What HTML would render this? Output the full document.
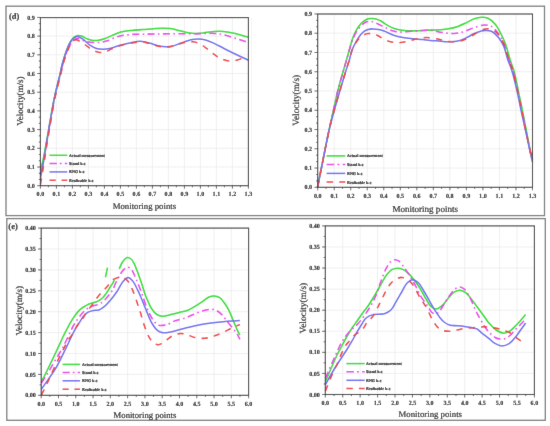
<!DOCTYPE html>
<html><head><meta charset="utf-8"><title>Velocity comparison</title>
<style>
html,body{margin:0;padding:0;background:#fff;}
body{width:550px;height:426px;overflow:hidden;}
svg{display:block;text-rendering:geometricPrecision;}
.tk{font-family:"Liberation Serif",serif;font-weight:bold;fill:#111;stroke:#111;stroke-width:0.1px;}
.lg{font-family:"Liberation Serif",serif;font-weight:bold;fill:#1a1a1a;stroke:#1a1a1a;stroke-width:0.18px;}
.pl{font-family:"Liberation Serif",serif;font-weight:bold;fill:#1a1a1a;stroke:#1a1a1a;stroke-width:0.15px;}
.at{font-family:"Liberation Serif",serif;fill:#1a1a1a;stroke:#1a1a1a;stroke-width:0.18px;}
</style></head><body>
<svg width="550" height="426" viewBox="0 0 550 426">
<defs><filter id="soft" x="0" y="0" width="550" height="426" filterUnits="userSpaceOnUse"><feConvolveMatrix order="3" kernelMatrix="0.0052 0.0619 0.0052 0.0619 0.7314 0.0619 0.0052 0.0619 0.0052" divisor="1" edgeMode="duplicate" preserveAlpha="true"/></filter></defs>
<g filter="url(#soft)">
<rect x="0" y="0" width="550" height="426" fill="#fff"/>
<line x1="251.5" y1="18" x2="251.5" y2="186" stroke="#f3f3f3" stroke-width="0.8"/>
<rect x="6.0" y="6.2" width="538.5" height="209.4" fill="none" stroke="#7a7a7a" stroke-width="1.3"/>
<rect x="6.8" y="218.6" width="538.5" height="201.7" fill="none" stroke="#7a7a7a" stroke-width="1.3"/>
<line x1="56.40" y1="17.60" x2="56.40" y2="185.70" stroke="#e9e9e9" stroke-width="0.7"/>
<line x1="72.40" y1="17.60" x2="72.40" y2="185.70" stroke="#e9e9e9" stroke-width="0.7"/>
<line x1="88.40" y1="17.60" x2="88.40" y2="185.70" stroke="#e9e9e9" stroke-width="0.7"/>
<line x1="104.40" y1="17.60" x2="104.40" y2="185.70" stroke="#e9e9e9" stroke-width="0.7"/>
<line x1="120.40" y1="17.60" x2="120.40" y2="185.70" stroke="#e9e9e9" stroke-width="0.7"/>
<line x1="136.40" y1="17.60" x2="136.40" y2="185.70" stroke="#e9e9e9" stroke-width="0.7"/>
<line x1="152.40" y1="17.60" x2="152.40" y2="185.70" stroke="#e9e9e9" stroke-width="0.7"/>
<line x1="168.40" y1="17.60" x2="168.40" y2="185.70" stroke="#e9e9e9" stroke-width="0.7"/>
<line x1="184.40" y1="17.60" x2="184.40" y2="185.70" stroke="#e9e9e9" stroke-width="0.7"/>
<line x1="200.40" y1="17.60" x2="200.40" y2="185.70" stroke="#e9e9e9" stroke-width="0.7"/>
<line x1="216.40" y1="17.60" x2="216.40" y2="185.70" stroke="#e9e9e9" stroke-width="0.7"/>
<line x1="232.40" y1="17.60" x2="232.40" y2="185.70" stroke="#e9e9e9" stroke-width="0.7"/>
<line x1="40.40" y1="167.00" x2="248.40" y2="167.00" stroke="#e9e9e9" stroke-width="0.7"/>
<line x1="40.40" y1="148.30" x2="248.40" y2="148.30" stroke="#e9e9e9" stroke-width="0.7"/>
<line x1="40.40" y1="129.60" x2="248.40" y2="129.60" stroke="#e9e9e9" stroke-width="0.7"/>
<line x1="40.40" y1="110.90" x2="248.40" y2="110.90" stroke="#e9e9e9" stroke-width="0.7"/>
<line x1="40.40" y1="92.20" x2="248.40" y2="92.20" stroke="#e9e9e9" stroke-width="0.7"/>
<line x1="40.40" y1="73.50" x2="248.40" y2="73.50" stroke="#e9e9e9" stroke-width="0.7"/>
<line x1="40.40" y1="54.80" x2="248.40" y2="54.80" stroke="#e9e9e9" stroke-width="0.7"/>
<line x1="40.40" y1="36.10" x2="248.40" y2="36.10" stroke="#e9e9e9" stroke-width="0.7"/>
<path d="M40.50,170.00 C41.43,166.33 42.38,163.18 43.30,159.00 C44.50,153.54 45.68,146.29 46.80,140.00 C47.91,133.80 48.86,127.87 50.00,121.50 C51.22,114.67 52.61,106.60 53.90,100.30 C54.94,95.20 55.96,90.83 57.00,86.50 C57.93,82.62 58.93,79.17 59.80,75.50 C60.66,71.84 61.26,68.15 62.20,64.50 C63.15,60.81 64.39,56.80 65.50,53.50 C66.43,50.74 67.30,48.24 68.30,46.00 C69.15,44.08 69.92,42.34 71.00,40.80 C72.01,39.36 73.23,37.88 74.50,37.00 C75.59,36.25 76.81,35.74 78.00,35.60 C79.15,35.46 80.20,35.70 81.50,36.10 C83.31,36.65 85.66,38.35 87.70,39.10 C89.55,39.78 91.36,40.30 93.20,40.50 C94.99,40.69 96.73,40.59 98.60,40.30 C100.71,39.98 103.04,39.27 105.20,38.50 C107.41,37.71 109.33,36.59 111.70,35.60 C114.49,34.43 117.65,32.86 120.90,32.00 C124.33,31.09 128.16,30.80 131.80,30.40 C135.43,30.00 139.07,29.88 142.70,29.60 C146.33,29.32 150.17,28.94 153.60,28.70 C156.66,28.49 159.49,28.23 162.30,28.20 C164.94,28.18 167.62,28.19 170.00,28.50 C172.11,28.77 173.64,29.27 175.90,29.80 C178.98,30.52 183.35,31.86 186.80,32.50 C189.85,33.07 192.69,33.55 195.50,33.60 C198.14,33.65 200.41,33.21 203.20,32.90 C206.52,32.54 210.59,31.72 214.10,31.50 C217.34,31.29 220.21,31.22 223.50,31.50 C227.20,31.81 231.21,32.60 235.20,33.50 C239.49,34.47 244.00,35.97 248.40,37.20" fill="none" stroke="#22dd22" stroke-width="1.55" stroke-linejoin="round"/>
<path d="M40.50,175.00 C41.47,170.33 42.43,166.09 43.40,161.00 C44.56,154.93 45.77,147.58 46.90,141.00 C48.00,134.59 48.95,128.49 50.10,122.00 C51.31,115.17 52.72,107.28 54.00,101.00 C55.05,95.85 56.06,91.38 57.10,87.00 C58.03,83.10 58.99,79.63 59.90,76.00 C60.79,72.46 61.53,69.03 62.50,65.50 C63.49,61.86 64.63,57.72 65.80,54.50 C66.75,51.87 67.75,49.55 68.80,47.50 C69.67,45.80 70.50,44.33 71.50,43.00 C72.42,41.79 73.37,40.54 74.50,39.80 C75.53,39.13 76.54,38.60 77.90,38.60 C79.93,38.60 82.93,40.67 85.50,41.30 C88.03,41.92 90.64,42.22 93.20,42.40 C95.74,42.58 98.38,42.71 100.80,42.40 C103.07,42.11 105.15,41.42 107.30,40.70 C109.52,39.96 111.65,38.81 113.90,38.00 C116.18,37.18 118.28,36.38 120.90,35.80 C124.11,35.10 128.16,34.67 131.80,34.40 C135.43,34.13 139.07,34.27 142.70,34.20 C146.33,34.13 149.70,34.06 153.60,34.00 C158.13,33.93 163.12,33.84 168.30,33.80 C174.11,33.76 180.82,33.84 186.80,33.80 C192.43,33.77 198.29,33.67 203.20,33.60 C207.20,33.54 210.61,33.19 214.10,33.40 C217.36,33.59 220.22,33.99 223.50,34.70 C227.22,35.51 231.19,36.95 235.20,38.20 C239.48,39.54 244.00,41.07 248.40,42.50" fill="none" stroke="#ea3cea" stroke-width="1.55" stroke-dasharray="7 3.4 1.6 3.4" stroke-linejoin="round"/>
<path d="M40.50,178.00 C41.50,172.67 42.50,167.70 43.50,162.00 C44.64,155.48 45.77,147.82 46.90,141.00 C47.97,134.51 48.98,128.54 50.10,122.00 C51.30,115.00 52.62,106.70 53.90,100.30 C54.93,95.17 55.96,90.83 57.00,86.50 C57.93,82.62 58.93,79.17 59.80,75.50 C60.66,71.84 61.26,68.15 62.20,64.50 C63.15,60.81 64.38,56.77 65.50,53.50 C66.42,50.80 67.30,48.38 68.30,46.20 C69.15,44.35 69.92,42.67 71.00,41.20 C72.01,39.82 73.25,38.39 74.50,37.60 C75.54,36.95 76.58,36.39 77.80,36.50 C79.45,36.65 81.53,38.31 83.40,39.60 C85.56,41.09 87.64,43.60 89.90,45.10 C91.99,46.49 94.16,47.72 96.40,48.40 C98.54,49.05 100.81,49.17 103.00,49.20 C105.17,49.23 107.44,49.01 109.50,48.60 C111.43,48.22 113.13,47.47 115.00,46.90 C116.93,46.31 118.62,45.73 120.90,45.10 C123.97,44.25 128.35,43.04 131.80,42.40 C134.85,41.83 137.60,41.22 140.50,41.30 C143.43,41.38 146.31,42.16 149.30,42.90 C152.50,43.69 156.09,45.38 159.10,46.00 C161.57,46.51 163.78,46.66 166.00,46.70 C168.07,46.74 169.81,46.76 172.00,46.30 C174.82,45.71 178.14,43.98 181.40,42.90 C184.88,41.74 189.27,40.19 192.30,39.60 C194.39,39.19 195.69,39.07 197.70,39.10 C200.26,39.14 203.64,39.47 206.40,40.20 C209.10,40.92 211.43,42.17 214.10,43.40 C217.10,44.79 220.19,46.53 223.50,48.20 C227.18,50.05 231.17,52.06 235.20,54.00 C239.46,56.05 244.00,58.13 248.40,60.20" fill="none" stroke="#6e6ef0" stroke-width="1.55" stroke-linejoin="round"/>
<path d="M40.50,184.50 C41.67,177.33 42.86,170.13 44.00,163.00 C45.13,155.96 46.19,148.82 47.30,142.00 C48.36,135.51 49.38,129.56 50.50,123.00 C51.71,115.93 53.01,107.43 54.30,101.00 C55.32,95.94 56.37,91.76 57.40,87.50 C58.33,83.64 59.30,80.17 60.20,76.50 C61.10,72.84 61.81,69.15 62.80,65.50 C63.80,61.82 64.99,57.85 66.20,54.50 C67.25,51.60 68.32,48.77 69.50,46.50 C70.45,44.68 71.41,42.97 72.50,41.80 C73.35,40.89 74.07,39.96 75.20,39.80 C76.76,39.58 79.23,40.95 81.20,42.00 C83.41,43.17 85.62,45.23 87.70,46.70 C89.60,48.04 91.21,49.55 93.20,50.50 C95.21,51.46 97.60,52.18 99.70,52.40 C101.59,52.60 103.34,52.49 105.20,52.00 C107.33,51.44 109.32,49.89 111.70,48.90 C114.47,47.74 117.47,46.60 120.90,45.60 C125.09,44.38 131.08,43.01 135.10,42.40 C138.01,41.96 140.19,41.54 142.70,41.80 C145.26,42.06 147.52,43.26 150.30,44.00 C153.62,44.89 157.77,46.27 161.30,46.70 C164.48,47.08 167.15,47.20 170.50,46.70 C174.74,46.07 180.41,43.17 184.60,42.40 C187.84,41.80 190.61,41.42 193.40,41.80 C196.07,42.17 198.56,43.22 201.00,44.50 C203.64,45.89 206.16,48.17 208.60,50.00 C210.92,51.74 213.10,53.69 215.30,55.20 C217.26,56.55 218.93,57.75 221.10,58.70 C223.54,59.77 226.54,60.90 229.30,61.10 C232.04,61.29 234.98,60.57 237.60,59.90 C240.07,59.27 242.27,58.17 244.60,57.30" fill="none" stroke="#ee3c3c" stroke-width="1.55" stroke-dasharray="6.2 6.2" stroke-linejoin="round"/>
<line x1="49.50" y1="155.30" x2="67.30" y2="155.30" stroke="#22dd22" stroke-width="1.5"/>
<line x1="49.50" y1="163.60" x2="67.30" y2="163.60" stroke="#ea3cea" stroke-width="1.5" stroke-dasharray="7.30 3.03 1.78 3.20"/>
<line x1="49.50" y1="171.90" x2="67.30" y2="171.90" stroke="#6e6ef0" stroke-width="1.5"/>
<line x1="49.50" y1="180.30" x2="67.30" y2="180.30" stroke="#ee3c3c" stroke-width="1.5" stroke-dasharray="6.23 5.87"/>
<text transform="translate(69.10,156.87) scale(0.93,1)" class="lg" font-size="4.37">Actual measurement</text>
<text transform="translate(69.10,165.17) scale(0.93,1)" class="lg" font-size="4.37">Stand k-ε</text>
<text transform="translate(69.10,173.47) scale(0.93,1)" class="lg" font-size="4.37">RNG k-ε</text>
<text transform="translate(69.10,181.87) scale(0.93,1)" class="lg" font-size="4.37">Realizable k-ε</text>
<rect x="40.40" y="17.60" width="208.00" height="168.10" fill="none" stroke="#3a3a3a" stroke-width="1.1"/>
<line x1="40.40" y1="185.70" x2="40.40" y2="188.70" stroke="#3a3a3a" stroke-width="0.8"/>
<line x1="56.40" y1="185.70" x2="56.40" y2="188.70" stroke="#3a3a3a" stroke-width="0.8"/>
<line x1="72.40" y1="185.70" x2="72.40" y2="188.70" stroke="#3a3a3a" stroke-width="0.8"/>
<line x1="88.40" y1="185.70" x2="88.40" y2="188.70" stroke="#3a3a3a" stroke-width="0.8"/>
<line x1="104.40" y1="185.70" x2="104.40" y2="188.70" stroke="#3a3a3a" stroke-width="0.8"/>
<line x1="120.40" y1="185.70" x2="120.40" y2="188.70" stroke="#3a3a3a" stroke-width="0.8"/>
<line x1="136.40" y1="185.70" x2="136.40" y2="188.70" stroke="#3a3a3a" stroke-width="0.8"/>
<line x1="152.40" y1="185.70" x2="152.40" y2="188.70" stroke="#3a3a3a" stroke-width="0.8"/>
<line x1="168.40" y1="185.70" x2="168.40" y2="188.70" stroke="#3a3a3a" stroke-width="0.8"/>
<line x1="184.40" y1="185.70" x2="184.40" y2="188.70" stroke="#3a3a3a" stroke-width="0.8"/>
<line x1="200.40" y1="185.70" x2="200.40" y2="188.70" stroke="#3a3a3a" stroke-width="0.8"/>
<line x1="216.40" y1="185.70" x2="216.40" y2="188.70" stroke="#3a3a3a" stroke-width="0.8"/>
<line x1="232.40" y1="185.70" x2="232.40" y2="188.70" stroke="#3a3a3a" stroke-width="0.8"/>
<line x1="248.40" y1="185.70" x2="248.40" y2="188.70" stroke="#3a3a3a" stroke-width="0.8"/>
<line x1="48.40" y1="185.70" x2="48.40" y2="187.30" stroke="#3a3a3a" stroke-width="0.8"/>
<line x1="64.40" y1="185.70" x2="64.40" y2="187.30" stroke="#3a3a3a" stroke-width="0.8"/>
<line x1="80.40" y1="185.70" x2="80.40" y2="187.30" stroke="#3a3a3a" stroke-width="0.8"/>
<line x1="96.40" y1="185.70" x2="96.40" y2="187.30" stroke="#3a3a3a" stroke-width="0.8"/>
<line x1="112.40" y1="185.70" x2="112.40" y2="187.30" stroke="#3a3a3a" stroke-width="0.8"/>
<line x1="128.40" y1="185.70" x2="128.40" y2="187.30" stroke="#3a3a3a" stroke-width="0.8"/>
<line x1="144.40" y1="185.70" x2="144.40" y2="187.30" stroke="#3a3a3a" stroke-width="0.8"/>
<line x1="160.40" y1="185.70" x2="160.40" y2="187.30" stroke="#3a3a3a" stroke-width="0.8"/>
<line x1="176.40" y1="185.70" x2="176.40" y2="187.30" stroke="#3a3a3a" stroke-width="0.8"/>
<line x1="192.40" y1="185.70" x2="192.40" y2="187.30" stroke="#3a3a3a" stroke-width="0.8"/>
<line x1="208.40" y1="185.70" x2="208.40" y2="187.30" stroke="#3a3a3a" stroke-width="0.8"/>
<line x1="224.40" y1="185.70" x2="224.40" y2="187.30" stroke="#3a3a3a" stroke-width="0.8"/>
<line x1="240.40" y1="185.70" x2="240.40" y2="187.30" stroke="#3a3a3a" stroke-width="0.8"/>
<line x1="37.20" y1="185.70" x2="40.40" y2="185.70" stroke="#3a3a3a" stroke-width="0.8"/>
<line x1="37.20" y1="167.00" x2="40.40" y2="167.00" stroke="#3a3a3a" stroke-width="0.8"/>
<line x1="37.20" y1="148.30" x2="40.40" y2="148.30" stroke="#3a3a3a" stroke-width="0.8"/>
<line x1="37.20" y1="129.60" x2="40.40" y2="129.60" stroke="#3a3a3a" stroke-width="0.8"/>
<line x1="37.20" y1="110.90" x2="40.40" y2="110.90" stroke="#3a3a3a" stroke-width="0.8"/>
<line x1="37.20" y1="92.20" x2="40.40" y2="92.20" stroke="#3a3a3a" stroke-width="0.8"/>
<line x1="37.20" y1="73.50" x2="40.40" y2="73.50" stroke="#3a3a3a" stroke-width="0.8"/>
<line x1="37.20" y1="54.80" x2="40.40" y2="54.80" stroke="#3a3a3a" stroke-width="0.8"/>
<line x1="37.20" y1="36.10" x2="40.40" y2="36.10" stroke="#3a3a3a" stroke-width="0.8"/>
<line x1="37.20" y1="17.40" x2="40.40" y2="17.40" stroke="#3a3a3a" stroke-width="0.8"/>
<line x1="38.80" y1="179.47" x2="40.40" y2="179.47" stroke="#3a3a3a" stroke-width="0.8"/>
<line x1="38.80" y1="173.23" x2="40.40" y2="173.23" stroke="#3a3a3a" stroke-width="0.8"/>
<line x1="38.80" y1="160.77" x2="40.40" y2="160.77" stroke="#3a3a3a" stroke-width="0.8"/>
<line x1="38.80" y1="154.53" x2="40.40" y2="154.53" stroke="#3a3a3a" stroke-width="0.8"/>
<line x1="38.80" y1="142.07" x2="40.40" y2="142.07" stroke="#3a3a3a" stroke-width="0.8"/>
<line x1="38.80" y1="135.83" x2="40.40" y2="135.83" stroke="#3a3a3a" stroke-width="0.8"/>
<line x1="38.80" y1="123.37" x2="40.40" y2="123.37" stroke="#3a3a3a" stroke-width="0.8"/>
<line x1="38.80" y1="117.13" x2="40.40" y2="117.13" stroke="#3a3a3a" stroke-width="0.8"/>
<line x1="38.80" y1="104.67" x2="40.40" y2="104.67" stroke="#3a3a3a" stroke-width="0.8"/>
<line x1="38.80" y1="98.43" x2="40.40" y2="98.43" stroke="#3a3a3a" stroke-width="0.8"/>
<line x1="38.80" y1="85.97" x2="40.40" y2="85.97" stroke="#3a3a3a" stroke-width="0.8"/>
<line x1="38.80" y1="79.73" x2="40.40" y2="79.73" stroke="#3a3a3a" stroke-width="0.8"/>
<line x1="38.80" y1="67.27" x2="40.40" y2="67.27" stroke="#3a3a3a" stroke-width="0.8"/>
<line x1="38.80" y1="61.03" x2="40.40" y2="61.03" stroke="#3a3a3a" stroke-width="0.8"/>
<line x1="38.80" y1="48.57" x2="40.40" y2="48.57" stroke="#3a3a3a" stroke-width="0.8"/>
<line x1="38.80" y1="42.33" x2="40.40" y2="42.33" stroke="#3a3a3a" stroke-width="0.8"/>
<line x1="38.80" y1="29.87" x2="40.40" y2="29.87" stroke="#3a3a3a" stroke-width="0.8"/>
<line x1="38.80" y1="23.63" x2="40.40" y2="23.63" stroke="#3a3a3a" stroke-width="0.8"/>
<text transform="translate(40.40,196.35) scale(0.950,1)" class="tk" text-anchor="middle" font-size="6.40">0.0</text>
<text transform="translate(56.40,196.35) scale(0.950,1)" class="tk" text-anchor="middle" font-size="6.40">0.1</text>
<text transform="translate(72.40,196.35) scale(0.950,1)" class="tk" text-anchor="middle" font-size="6.40">0.2</text>
<text transform="translate(88.40,196.35) scale(0.950,1)" class="tk" text-anchor="middle" font-size="6.40">0.3</text>
<text transform="translate(104.40,196.35) scale(0.950,1)" class="tk" text-anchor="middle" font-size="6.40">0.4</text>
<text transform="translate(120.40,196.35) scale(0.950,1)" class="tk" text-anchor="middle" font-size="6.40">0.5</text>
<text transform="translate(136.40,196.35) scale(0.950,1)" class="tk" text-anchor="middle" font-size="6.40">0.6</text>
<text transform="translate(152.40,196.35) scale(0.950,1)" class="tk" text-anchor="middle" font-size="6.40">0.7</text>
<text transform="translate(168.40,196.35) scale(0.950,1)" class="tk" text-anchor="middle" font-size="6.40">0.8</text>
<text transform="translate(184.40,196.35) scale(0.950,1)" class="tk" text-anchor="middle" font-size="6.40">0.9</text>
<text transform="translate(200.40,196.35) scale(0.950,1)" class="tk" text-anchor="middle" font-size="6.40">1.0</text>
<text transform="translate(216.40,196.35) scale(0.950,1)" class="tk" text-anchor="middle" font-size="6.40">1.1</text>
<text transform="translate(232.40,196.35) scale(0.950,1)" class="tk" text-anchor="middle" font-size="6.40">1.2</text>
<text transform="translate(248.40,196.35) scale(0.950,1)" class="tk" text-anchor="middle" font-size="6.40">1.3</text>
<text transform="translate(34.90,187.81) scale(0.950,1)" class="tk" text-anchor="end" font-size="6.40">0.0</text>
<text transform="translate(34.90,169.11) scale(0.950,1)" class="tk" text-anchor="end" font-size="6.40">0.1</text>
<text transform="translate(34.90,150.41) scale(0.950,1)" class="tk" text-anchor="end" font-size="6.40">0.2</text>
<text transform="translate(34.90,131.71) scale(0.950,1)" class="tk" text-anchor="end" font-size="6.40">0.3</text>
<text transform="translate(34.90,113.01) scale(0.950,1)" class="tk" text-anchor="end" font-size="6.40">0.4</text>
<text transform="translate(34.90,94.31) scale(0.950,1)" class="tk" text-anchor="end" font-size="6.40">0.5</text>
<text transform="translate(34.90,75.61) scale(0.950,1)" class="tk" text-anchor="end" font-size="6.40">0.6</text>
<text transform="translate(34.90,56.91) scale(0.950,1)" class="tk" text-anchor="end" font-size="6.40">0.7</text>
<text transform="translate(34.90,38.21) scale(0.950,1)" class="tk" text-anchor="end" font-size="6.40">0.8</text>
<text transform="translate(34.90,19.51) scale(0.950,1)" class="tk" text-anchor="end" font-size="6.40">0.9</text>
<line x1="334.22" y1="14.00" x2="334.22" y2="187.30" stroke="#e9e9e9" stroke-width="0.7"/>
<line x1="350.74" y1="14.00" x2="350.74" y2="187.30" stroke="#e9e9e9" stroke-width="0.7"/>
<line x1="367.26" y1="14.00" x2="367.26" y2="187.30" stroke="#e9e9e9" stroke-width="0.7"/>
<line x1="383.78" y1="14.00" x2="383.78" y2="187.30" stroke="#e9e9e9" stroke-width="0.7"/>
<line x1="400.30" y1="14.00" x2="400.30" y2="187.30" stroke="#e9e9e9" stroke-width="0.7"/>
<line x1="416.82" y1="14.00" x2="416.82" y2="187.30" stroke="#e9e9e9" stroke-width="0.7"/>
<line x1="433.34" y1="14.00" x2="433.34" y2="187.30" stroke="#e9e9e9" stroke-width="0.7"/>
<line x1="449.86" y1="14.00" x2="449.86" y2="187.30" stroke="#e9e9e9" stroke-width="0.7"/>
<line x1="466.38" y1="14.00" x2="466.38" y2="187.30" stroke="#e9e9e9" stroke-width="0.7"/>
<line x1="482.90" y1="14.00" x2="482.90" y2="187.30" stroke="#e9e9e9" stroke-width="0.7"/>
<line x1="499.42" y1="14.00" x2="499.42" y2="187.30" stroke="#e9e9e9" stroke-width="0.7"/>
<line x1="515.94" y1="14.00" x2="515.94" y2="187.30" stroke="#e9e9e9" stroke-width="0.7"/>
<line x1="317.70" y1="168.04" x2="532.50" y2="168.04" stroke="#e9e9e9" stroke-width="0.7"/>
<line x1="317.70" y1="148.78" x2="532.50" y2="148.78" stroke="#e9e9e9" stroke-width="0.7"/>
<line x1="317.70" y1="129.52" x2="532.50" y2="129.52" stroke="#e9e9e9" stroke-width="0.7"/>
<line x1="317.70" y1="110.26" x2="532.50" y2="110.26" stroke="#e9e9e9" stroke-width="0.7"/>
<line x1="317.70" y1="91.00" x2="532.50" y2="91.00" stroke="#e9e9e9" stroke-width="0.7"/>
<line x1="317.70" y1="71.74" x2="532.50" y2="71.74" stroke="#e9e9e9" stroke-width="0.7"/>
<line x1="317.70" y1="52.48" x2="532.50" y2="52.48" stroke="#e9e9e9" stroke-width="0.7"/>
<line x1="317.70" y1="33.22" x2="532.50" y2="33.22" stroke="#e9e9e9" stroke-width="0.7"/>
<path d="M317.60,187.00 C319.40,178.00 321.14,169.24 323.00,160.00 C324.96,150.26 327.19,138.96 329.10,130.00 C330.65,122.71 332.02,116.83 333.50,110.20 C334.99,103.50 336.37,96.52 338.00,90.00 C339.55,83.81 341.48,77.34 343.00,72.00 C344.23,67.71 345.24,64.48 346.40,60.40 C347.69,55.86 349.20,50.12 350.40,46.00 C351.31,42.88 351.96,40.34 352.90,37.80 C353.75,35.51 354.64,33.44 355.70,31.40 C356.74,29.41 357.87,27.40 359.20,25.70 C360.46,24.09 361.86,22.57 363.40,21.40 C364.87,20.29 366.66,19.26 368.20,18.80 C369.47,18.42 370.54,18.45 371.90,18.50 C373.60,18.56 375.90,18.84 377.60,19.40 C379.12,19.90 380.23,20.65 381.70,21.50 C383.51,22.54 385.60,24.17 387.60,25.30 C389.54,26.39 391.41,27.43 393.50,28.20 C395.69,29.01 398.06,29.57 400.50,30.00 C403.11,30.46 405.96,30.67 408.70,30.80 C411.46,30.93 414.26,30.90 417.00,30.80 C419.69,30.70 422.08,30.33 425.00,30.20 C428.53,30.04 432.80,30.23 436.70,30.00 C440.63,29.77 444.81,29.45 448.50,28.80 C451.83,28.21 454.91,27.41 457.90,26.40 C460.77,25.43 463.39,24.16 466.10,22.90 C468.85,21.63 471.60,19.74 474.30,18.80 C476.72,17.96 479.16,17.36 481.50,17.30 C483.72,17.24 485.92,17.36 488.00,18.30 C490.45,19.40 492.94,21.73 495.00,24.10 C497.27,26.71 499.06,30.22 500.80,33.50 C502.57,36.85 504.05,40.08 505.50,44.00 C507.24,48.72 508.66,55.18 510.20,60.00 C511.49,64.03 512.81,66.76 514.00,71.00 C515.57,76.60 516.91,84.25 518.30,90.80 C519.67,97.25 521.01,103.61 522.30,110.00 C523.58,116.35 524.68,122.30 526.00,129.00 C527.49,136.54 529.56,147.40 530.80,153.00 C531.47,156.04 531.93,157.67 532.50,160.00" fill="none" stroke="#22dd22" stroke-width="1.55" stroke-linejoin="round"/>
<path d="M317.60,187.00 C319.40,178.00 321.14,169.24 323.00,160.00 C324.96,150.26 327.19,138.96 329.10,130.00 C330.65,122.71 332.02,116.83 333.50,110.20 C334.99,103.50 336.37,96.52 338.00,90.00 C339.55,83.81 341.48,77.34 343.00,72.00 C344.23,67.71 345.22,64.48 346.40,60.40 C347.71,55.86 349.22,50.04 350.50,46.00 C351.45,43.02 352.20,40.69 353.20,38.30 C354.11,36.12 355.09,34.05 356.20,32.20 C357.21,30.51 358.14,29.11 359.50,27.60 C361.11,25.81 363.30,23.30 365.40,22.30 C367.17,21.45 369.15,21.26 371.00,21.40 C372.88,21.54 374.56,22.36 376.60,23.20 C379.22,24.28 382.42,26.26 385.30,27.60 C388.05,28.88 390.83,30.35 393.50,31.10 C395.88,31.77 398.07,32.02 400.50,32.10 C403.12,32.19 405.96,31.70 408.70,31.50 C411.46,31.30 414.07,31.09 417.00,30.90 C420.29,30.69 424.73,30.32 427.50,30.30 C429.31,30.29 430.19,30.29 432.00,30.50 C434.80,30.82 438.97,32.00 442.60,32.50 C446.39,33.02 450.63,33.69 454.30,33.50 C457.62,33.33 460.51,32.61 463.70,31.70 C467.17,30.71 470.78,28.73 474.30,27.60 C477.68,26.52 481.33,25.08 484.40,25.00 C486.94,24.93 489.31,25.28 491.40,26.40 C493.66,27.61 495.45,29.98 497.30,32.30 C499.43,34.97 501.45,37.92 503.20,41.70 C505.50,46.68 507.19,54.69 509.00,60.00 C510.41,64.15 511.73,66.76 513.00,71.00 C514.68,76.60 516.22,84.24 517.70,90.80 C519.15,97.24 520.48,103.61 521.80,110.00 C523.11,116.35 524.23,122.30 525.60,129.00 C527.14,136.54 529.30,147.15 530.60,153.00 C531.36,156.39 531.87,158.33 532.50,161.00" fill="none" stroke="#ea3cea" stroke-width="1.55" stroke-dasharray="7 3.4 1.6 3.4" stroke-linejoin="round"/>
<path d="M317.60,187.00 C319.40,178.00 321.14,169.24 323.00,160.00 C324.96,150.26 327.02,138.94 329.10,130.00 C330.80,122.69 332.46,116.82 334.28,110.20 C336.13,103.49 338.19,96.53 340.12,90.00 C341.94,83.82 343.90,77.34 345.55,72.00 C346.88,67.71 348.11,64.17 349.22,60.40 C350.28,56.85 351.01,52.95 352.10,50.00 C352.95,47.69 353.93,45.89 354.90,44.00 C355.80,42.24 356.72,40.57 357.70,39.00 C358.62,37.52 359.52,36.09 360.60,34.80 C361.66,33.53 362.80,32.21 364.10,31.30 C365.34,30.43 366.75,29.80 368.20,29.40 C369.68,28.99 371.17,28.88 372.90,28.90 C375.02,28.92 377.97,29.35 380.00,29.80 C381.57,30.15 382.47,30.49 384.10,31.10 C386.61,32.04 390.32,34.11 393.50,35.20 C396.59,36.26 399.66,37.00 402.90,37.60 C406.28,38.22 409.99,38.46 413.40,38.80 C416.62,39.12 419.88,39.29 422.80,39.60 C425.36,39.87 427.64,40.30 430.00,40.50 C432.27,40.69 434.15,40.65 436.70,40.80 C440.08,41.00 444.79,41.68 448.50,41.70 C451.81,41.72 454.92,41.76 457.90,41.10 C460.78,40.46 463.40,39.14 466.10,37.90 C468.87,36.62 471.63,34.70 474.30,33.50 C476.69,32.42 479.22,31.37 481.30,30.90 C482.88,30.54 484.06,30.47 485.60,30.50 C487.39,30.54 489.50,30.43 491.40,31.30 C493.81,32.40 496.47,35.06 498.50,37.50 C500.63,40.06 502.31,43.02 503.80,46.40 C505.55,50.36 506.46,55.73 507.90,60.00 C509.21,63.88 510.68,66.76 512.00,71.00 C513.74,76.60 515.49,84.23 517.00,90.80 C518.48,97.23 519.63,103.62 521.00,110.00 C522.36,116.35 523.73,122.30 525.20,129.00 C526.85,136.53 529.03,146.93 530.40,153.00 C531.24,156.73 531.80,159.00 532.50,162.00" fill="none" stroke="#6e6ef0" stroke-width="1.55" stroke-linejoin="round"/>
<path d="M317.60,187.00 C319.40,178.00 321.14,169.24 323.00,160.00 C324.96,150.26 327.02,138.94 329.10,130.00 C330.80,122.69 332.46,116.82 334.28,110.20 C336.13,103.49 338.19,96.53 340.12,90.00 C341.94,83.82 343.90,77.34 345.55,72.00 C346.88,67.71 348.11,64.12 349.22,60.40 C350.25,56.98 350.96,53.28 352.00,50.50 C352.80,48.36 353.73,46.63 354.60,45.00 C355.33,43.63 356.00,42.43 356.80,41.30 C357.54,40.24 358.23,39.35 359.20,38.40 C360.36,37.27 361.87,35.90 363.40,35.10 C364.88,34.32 366.59,33.76 368.20,33.60 C369.76,33.45 371.35,33.79 372.90,34.10 C374.48,34.42 375.89,34.77 377.60,35.50 C379.90,36.49 382.62,38.76 385.30,39.90 C387.93,41.02 390.85,41.86 393.50,42.30 C395.90,42.70 398.08,42.77 400.50,42.60 C403.14,42.42 405.97,41.73 408.70,41.10 C411.47,40.46 414.13,39.38 417.00,38.80 C419.99,38.20 423.11,37.62 426.30,37.60 C429.67,37.58 433.14,38.19 436.70,38.80 C440.53,39.46 444.55,41.12 448.50,41.50 C452.38,41.87 456.59,41.92 460.20,41.10 C463.58,40.33 466.74,38.46 469.60,37.00 C472.15,35.70 474.41,34.13 476.60,32.90 C478.51,31.83 480.11,30.68 482.00,30.00 C483.88,29.32 485.94,28.72 487.90,28.80 C489.88,28.88 492.04,29.54 493.80,30.50 C495.58,31.47 497.03,32.79 498.50,34.60 C500.43,36.97 502.20,40.36 503.80,44.00 C505.80,48.54 507.34,55.18 509.00,60.00 C510.38,64.02 511.75,66.75 513.00,71.00 C514.65,76.59 516.06,84.25 517.50,90.80 C518.92,97.24 520.26,103.61 521.60,110.00 C522.93,116.35 524.10,122.30 525.50,129.00 C527.07,136.54 529.22,147.54 530.60,153.00 C531.32,155.87 531.87,157.33 532.50,159.50" fill="none" stroke="#ee3c3c" stroke-width="1.55" stroke-dasharray="6.2 6.2" stroke-linejoin="round"/>
<line x1="326.60" y1="155.90" x2="345.30" y2="155.90" stroke="#22dd22" stroke-width="1.5"/>
<line x1="326.60" y1="164.60" x2="345.30" y2="164.60" stroke="#ea3cea" stroke-width="1.5" stroke-dasharray="7.67 3.18 1.87 3.37"/>
<line x1="326.60" y1="173.40" x2="345.30" y2="173.40" stroke="#6e6ef0" stroke-width="1.5"/>
<line x1="326.60" y1="182.10" x2="345.30" y2="182.10" stroke="#ee3c3c" stroke-width="1.5" stroke-dasharray="6.54 6.17"/>
<text transform="translate(347.00,157.47) scale(0.93,1)" class="lg" font-size="4.37">Actual measurement</text>
<text transform="translate(347.00,166.17) scale(0.93,1)" class="lg" font-size="4.37">Stand k-ε</text>
<text transform="translate(347.00,174.97) scale(0.93,1)" class="lg" font-size="4.37">RNG k-ε</text>
<text transform="translate(347.00,183.67) scale(0.93,1)" class="lg" font-size="4.37">Realizable k-ε</text>
<rect x="317.70" y="14.00" width="214.80" height="173.30" fill="none" stroke="#3a3a3a" stroke-width="1.1"/>
<line x1="317.70" y1="187.30" x2="317.70" y2="190.30" stroke="#3a3a3a" stroke-width="0.8"/>
<line x1="334.22" y1="187.30" x2="334.22" y2="190.30" stroke="#3a3a3a" stroke-width="0.8"/>
<line x1="350.74" y1="187.30" x2="350.74" y2="190.30" stroke="#3a3a3a" stroke-width="0.8"/>
<line x1="367.26" y1="187.30" x2="367.26" y2="190.30" stroke="#3a3a3a" stroke-width="0.8"/>
<line x1="383.78" y1="187.30" x2="383.78" y2="190.30" stroke="#3a3a3a" stroke-width="0.8"/>
<line x1="400.30" y1="187.30" x2="400.30" y2="190.30" stroke="#3a3a3a" stroke-width="0.8"/>
<line x1="416.82" y1="187.30" x2="416.82" y2="190.30" stroke="#3a3a3a" stroke-width="0.8"/>
<line x1="433.34" y1="187.30" x2="433.34" y2="190.30" stroke="#3a3a3a" stroke-width="0.8"/>
<line x1="449.86" y1="187.30" x2="449.86" y2="190.30" stroke="#3a3a3a" stroke-width="0.8"/>
<line x1="466.38" y1="187.30" x2="466.38" y2="190.30" stroke="#3a3a3a" stroke-width="0.8"/>
<line x1="482.90" y1="187.30" x2="482.90" y2="190.30" stroke="#3a3a3a" stroke-width="0.8"/>
<line x1="499.42" y1="187.30" x2="499.42" y2="190.30" stroke="#3a3a3a" stroke-width="0.8"/>
<line x1="515.94" y1="187.30" x2="515.94" y2="190.30" stroke="#3a3a3a" stroke-width="0.8"/>
<line x1="532.46" y1="187.30" x2="532.46" y2="190.30" stroke="#3a3a3a" stroke-width="0.8"/>
<line x1="325.96" y1="187.30" x2="325.96" y2="188.90" stroke="#3a3a3a" stroke-width="0.8"/>
<line x1="342.48" y1="187.30" x2="342.48" y2="188.90" stroke="#3a3a3a" stroke-width="0.8"/>
<line x1="359.00" y1="187.30" x2="359.00" y2="188.90" stroke="#3a3a3a" stroke-width="0.8"/>
<line x1="375.52" y1="187.30" x2="375.52" y2="188.90" stroke="#3a3a3a" stroke-width="0.8"/>
<line x1="392.04" y1="187.30" x2="392.04" y2="188.90" stroke="#3a3a3a" stroke-width="0.8"/>
<line x1="408.56" y1="187.30" x2="408.56" y2="188.90" stroke="#3a3a3a" stroke-width="0.8"/>
<line x1="425.08" y1="187.30" x2="425.08" y2="188.90" stroke="#3a3a3a" stroke-width="0.8"/>
<line x1="441.60" y1="187.30" x2="441.60" y2="188.90" stroke="#3a3a3a" stroke-width="0.8"/>
<line x1="458.12" y1="187.30" x2="458.12" y2="188.90" stroke="#3a3a3a" stroke-width="0.8"/>
<line x1="474.64" y1="187.30" x2="474.64" y2="188.90" stroke="#3a3a3a" stroke-width="0.8"/>
<line x1="491.16" y1="187.30" x2="491.16" y2="188.90" stroke="#3a3a3a" stroke-width="0.8"/>
<line x1="507.68" y1="187.30" x2="507.68" y2="188.90" stroke="#3a3a3a" stroke-width="0.8"/>
<line x1="524.20" y1="187.30" x2="524.20" y2="188.90" stroke="#3a3a3a" stroke-width="0.8"/>
<line x1="314.50" y1="187.30" x2="317.70" y2="187.30" stroke="#3a3a3a" stroke-width="0.8"/>
<line x1="314.50" y1="168.04" x2="317.70" y2="168.04" stroke="#3a3a3a" stroke-width="0.8"/>
<line x1="314.50" y1="148.78" x2="317.70" y2="148.78" stroke="#3a3a3a" stroke-width="0.8"/>
<line x1="314.50" y1="129.52" x2="317.70" y2="129.52" stroke="#3a3a3a" stroke-width="0.8"/>
<line x1="314.50" y1="110.26" x2="317.70" y2="110.26" stroke="#3a3a3a" stroke-width="0.8"/>
<line x1="314.50" y1="91.00" x2="317.70" y2="91.00" stroke="#3a3a3a" stroke-width="0.8"/>
<line x1="314.50" y1="71.74" x2="317.70" y2="71.74" stroke="#3a3a3a" stroke-width="0.8"/>
<line x1="314.50" y1="52.48" x2="317.70" y2="52.48" stroke="#3a3a3a" stroke-width="0.8"/>
<line x1="314.50" y1="33.22" x2="317.70" y2="33.22" stroke="#3a3a3a" stroke-width="0.8"/>
<line x1="314.50" y1="13.96" x2="317.70" y2="13.96" stroke="#3a3a3a" stroke-width="0.8"/>
<line x1="316.10" y1="180.88" x2="317.70" y2="180.88" stroke="#3a3a3a" stroke-width="0.8"/>
<line x1="316.10" y1="174.46" x2="317.70" y2="174.46" stroke="#3a3a3a" stroke-width="0.8"/>
<line x1="316.10" y1="161.62" x2="317.70" y2="161.62" stroke="#3a3a3a" stroke-width="0.8"/>
<line x1="316.10" y1="155.20" x2="317.70" y2="155.20" stroke="#3a3a3a" stroke-width="0.8"/>
<line x1="316.10" y1="142.36" x2="317.70" y2="142.36" stroke="#3a3a3a" stroke-width="0.8"/>
<line x1="316.10" y1="135.94" x2="317.70" y2="135.94" stroke="#3a3a3a" stroke-width="0.8"/>
<line x1="316.10" y1="123.10" x2="317.70" y2="123.10" stroke="#3a3a3a" stroke-width="0.8"/>
<line x1="316.10" y1="116.68" x2="317.70" y2="116.68" stroke="#3a3a3a" stroke-width="0.8"/>
<line x1="316.10" y1="103.84" x2="317.70" y2="103.84" stroke="#3a3a3a" stroke-width="0.8"/>
<line x1="316.10" y1="97.42" x2="317.70" y2="97.42" stroke="#3a3a3a" stroke-width="0.8"/>
<line x1="316.10" y1="84.58" x2="317.70" y2="84.58" stroke="#3a3a3a" stroke-width="0.8"/>
<line x1="316.10" y1="78.16" x2="317.70" y2="78.16" stroke="#3a3a3a" stroke-width="0.8"/>
<line x1="316.10" y1="65.32" x2="317.70" y2="65.32" stroke="#3a3a3a" stroke-width="0.8"/>
<line x1="316.10" y1="58.90" x2="317.70" y2="58.90" stroke="#3a3a3a" stroke-width="0.8"/>
<line x1="316.10" y1="46.06" x2="317.70" y2="46.06" stroke="#3a3a3a" stroke-width="0.8"/>
<line x1="316.10" y1="39.64" x2="317.70" y2="39.64" stroke="#3a3a3a" stroke-width="0.8"/>
<line x1="316.10" y1="26.80" x2="317.70" y2="26.80" stroke="#3a3a3a" stroke-width="0.8"/>
<line x1="316.10" y1="20.38" x2="317.70" y2="20.38" stroke="#3a3a3a" stroke-width="0.8"/>
<text transform="translate(317.70,198.35) scale(0.950,1)" class="tk" text-anchor="middle" font-size="6.40">0.0</text>
<text transform="translate(334.22,198.35) scale(0.950,1)" class="tk" text-anchor="middle" font-size="6.40">0.1</text>
<text transform="translate(350.74,198.35) scale(0.950,1)" class="tk" text-anchor="middle" font-size="6.40">0.2</text>
<text transform="translate(367.26,198.35) scale(0.950,1)" class="tk" text-anchor="middle" font-size="6.40">0.3</text>
<text transform="translate(383.78,198.35) scale(0.950,1)" class="tk" text-anchor="middle" font-size="6.40">0.4</text>
<text transform="translate(400.30,198.35) scale(0.950,1)" class="tk" text-anchor="middle" font-size="6.40">0.5</text>
<text transform="translate(416.82,198.35) scale(0.950,1)" class="tk" text-anchor="middle" font-size="6.40">0.6</text>
<text transform="translate(433.34,198.35) scale(0.950,1)" class="tk" text-anchor="middle" font-size="6.40">0.7</text>
<text transform="translate(449.86,198.35) scale(0.950,1)" class="tk" text-anchor="middle" font-size="6.40">0.8</text>
<text transform="translate(466.38,198.35) scale(0.950,1)" class="tk" text-anchor="middle" font-size="6.40">0.9</text>
<text transform="translate(482.90,198.35) scale(0.950,1)" class="tk" text-anchor="middle" font-size="6.40">1.0</text>
<text transform="translate(499.42,198.35) scale(0.950,1)" class="tk" text-anchor="middle" font-size="6.40">1.1</text>
<text transform="translate(515.94,198.35) scale(0.950,1)" class="tk" text-anchor="middle" font-size="6.40">1.2</text>
<text transform="translate(532.46,198.35) scale(0.950,1)" class="tk" text-anchor="middle" font-size="6.40">1.3</text>
<text transform="translate(312.00,189.41) scale(0.950,1)" class="tk" text-anchor="end" font-size="6.40">0.0</text>
<text transform="translate(312.00,170.15) scale(0.950,1)" class="tk" text-anchor="end" font-size="6.40">0.1</text>
<text transform="translate(312.00,150.89) scale(0.950,1)" class="tk" text-anchor="end" font-size="6.40">0.2</text>
<text transform="translate(312.00,131.63) scale(0.950,1)" class="tk" text-anchor="end" font-size="6.40">0.3</text>
<text transform="translate(312.00,112.37) scale(0.950,1)" class="tk" text-anchor="end" font-size="6.40">0.4</text>
<text transform="translate(312.00,93.11) scale(0.950,1)" class="tk" text-anchor="end" font-size="6.40">0.5</text>
<text transform="translate(312.00,73.85) scale(0.950,1)" class="tk" text-anchor="end" font-size="6.40">0.6</text>
<text transform="translate(312.00,54.59) scale(0.950,1)" class="tk" text-anchor="end" font-size="6.40">0.7</text>
<text transform="translate(312.00,35.33) scale(0.950,1)" class="tk" text-anchor="end" font-size="6.40">0.8</text>
<text transform="translate(312.00,16.07) scale(0.950,1)" class="tk" text-anchor="end" font-size="6.40">0.9</text>
<line x1="58.48" y1="228.10" x2="58.48" y2="395.30" stroke="#e9e9e9" stroke-width="0.7"/>
<line x1="75.77" y1="228.10" x2="75.77" y2="395.30" stroke="#e9e9e9" stroke-width="0.7"/>
<line x1="93.06" y1="228.10" x2="93.06" y2="395.30" stroke="#e9e9e9" stroke-width="0.7"/>
<line x1="110.34" y1="228.10" x2="110.34" y2="395.30" stroke="#e9e9e9" stroke-width="0.7"/>
<line x1="127.62" y1="228.10" x2="127.62" y2="395.30" stroke="#e9e9e9" stroke-width="0.7"/>
<line x1="144.91" y1="228.10" x2="144.91" y2="395.30" stroke="#e9e9e9" stroke-width="0.7"/>
<line x1="162.19" y1="228.10" x2="162.19" y2="395.30" stroke="#e9e9e9" stroke-width="0.7"/>
<line x1="179.48" y1="228.10" x2="179.48" y2="395.30" stroke="#e9e9e9" stroke-width="0.7"/>
<line x1="196.76" y1="228.10" x2="196.76" y2="395.30" stroke="#e9e9e9" stroke-width="0.7"/>
<line x1="214.05" y1="228.10" x2="214.05" y2="395.30" stroke="#e9e9e9" stroke-width="0.7"/>
<line x1="231.33" y1="228.10" x2="231.33" y2="395.30" stroke="#e9e9e9" stroke-width="0.7"/>
<line x1="41.20" y1="374.40" x2="248.60" y2="374.40" stroke="#e9e9e9" stroke-width="0.7"/>
<line x1="41.20" y1="353.50" x2="248.60" y2="353.50" stroke="#e9e9e9" stroke-width="0.7"/>
<line x1="41.20" y1="332.60" x2="248.60" y2="332.60" stroke="#e9e9e9" stroke-width="0.7"/>
<line x1="41.20" y1="311.70" x2="248.60" y2="311.70" stroke="#e9e9e9" stroke-width="0.7"/>
<line x1="41.20" y1="290.80" x2="248.60" y2="290.80" stroke="#e9e9e9" stroke-width="0.7"/>
<line x1="41.20" y1="269.90" x2="248.60" y2="269.90" stroke="#e9e9e9" stroke-width="0.7"/>
<line x1="41.20" y1="249.00" x2="248.60" y2="249.00" stroke="#e9e9e9" stroke-width="0.7"/>
<path d="M41.30,382.00 C42.50,379.67 43.61,377.58 44.90,375.00 C46.47,371.86 48.24,368.15 50.00,364.50 C51.92,360.52 54.32,355.54 56.00,352.00 C57.24,349.39 58.07,347.64 59.20,345.20 C60.51,342.37 61.96,338.98 63.40,336.00 C64.79,333.12 66.25,330.30 67.70,327.60 C69.08,325.04 70.46,322.54 71.90,320.20 C73.26,317.99 74.62,315.79 76.10,313.90 C77.44,312.19 78.93,310.52 80.30,309.30 C81.39,308.33 82.34,307.75 83.50,307.00 C84.79,306.17 86.23,305.26 87.70,304.60 C89.19,303.93 90.76,303.56 92.40,303.00 C94.18,302.39 96.27,301.98 98.00,301.10 C99.70,300.24 101.31,299.12 102.70,297.80 C104.12,296.46 105.20,294.80 106.40,293.10 C107.71,291.23 109.02,288.84 110.20,287.00 C111.19,285.46 112.28,284.08 113.00,282.80 C113.56,281.80 113.87,280.93 114.30,280.00" fill="none" stroke="#22dd22" stroke-width="1.55" stroke-linejoin="round"/>
<path d="M105.40,277.20 C105.77,275.63 106.15,274.08 106.50,272.50 C106.85,270.91 107.17,269.30 107.50,267.70" fill="none" stroke="#22dd22" stroke-width="1.55" stroke-linejoin="round"/>
<path d="M119.20,268.80 C120.37,266.47 121.24,263.73 122.70,261.80 C124.00,260.08 125.76,257.90 127.30,257.60 C128.53,257.36 129.95,258.20 131.00,259.00 C132.15,259.87 132.85,261.08 133.80,262.80 C135.44,265.76 137.47,271.86 138.90,275.70 C140.04,278.76 140.81,281.03 141.80,284.00 C142.94,287.40 144.08,291.71 145.30,295.00 C146.33,297.77 147.44,300.18 148.50,302.50 C149.44,304.54 150.05,306.34 151.30,308.20 C152.74,310.35 154.83,313.15 156.90,314.50 C158.63,315.63 160.42,316.19 162.50,316.30 C165.02,316.43 168.18,315.15 171.00,314.50 C173.81,313.85 176.59,313.10 179.40,312.40 C182.22,311.70 185.27,311.34 187.90,310.30 C190.42,309.31 192.58,307.78 194.90,306.40 C197.28,304.99 199.65,303.46 202.00,301.90 C204.38,300.32 206.86,297.95 209.10,297.00 C210.81,296.27 212.31,295.93 214.00,296.00 C215.84,296.08 218.01,296.61 219.70,297.70 C221.59,298.92 223.10,301.25 224.60,303.30 C226.18,305.46 227.56,307.78 228.90,310.40 C230.42,313.38 231.70,317.01 233.10,320.30 C234.50,323.58 236.02,327.40 237.30,330.10 C238.23,332.06 239.03,333.43 239.90,335.10" fill="none" stroke="#22dd22" stroke-width="1.55" stroke-linejoin="round"/>
<path d="M41.30,383.30 C43.30,380.10 45.37,376.87 47.30,373.70 C49.17,370.64 50.83,367.75 52.70,364.60 C54.72,361.20 57.21,357.04 59.00,354.00 C60.34,351.72 61.38,350.06 62.50,348.00 C63.65,345.89 64.67,343.82 65.80,341.50 C67.09,338.87 68.48,335.74 69.80,333.00 C71.05,330.42 72.14,327.85 73.50,325.50 C74.79,323.26 76.26,321.23 77.70,319.20 C79.10,317.23 80.58,315.13 82.00,313.50 C83.18,312.14 84.33,310.99 85.50,310.00 C86.53,309.13 87.42,308.46 88.60,307.80 C89.97,307.03 91.65,306.39 93.30,305.80 C95.07,305.17 97.17,304.99 98.90,304.20 C100.60,303.42 102.18,302.31 103.60,301.10 C105.02,299.88 106.17,298.36 107.40,296.90 C108.67,295.40 110.09,293.58 111.10,292.20 C111.86,291.16 112.37,290.56 113.00,289.40 C113.90,287.74 114.64,285.19 115.70,283.00 C116.87,280.57 118.62,277.60 119.80,275.50 C120.67,273.95 121.03,272.76 122.10,271.50 C123.39,269.99 125.63,267.49 127.30,267.30 C128.64,267.15 130.00,268.00 131.20,269.20 C133.16,271.15 134.66,275.83 136.30,279.50 C138.11,283.55 139.79,287.94 141.50,292.50 C143.36,297.47 144.98,303.47 147.00,308.20 C148.76,312.31 150.55,316.42 152.70,319.40 C154.41,321.78 156.10,324.18 158.30,325.10 C160.37,325.97 162.90,325.62 165.40,325.10 C168.47,324.46 171.88,321.99 175.20,320.80 C178.45,319.63 181.97,319.09 185.10,318.00 C188.05,316.97 190.69,315.65 193.50,314.50 C196.32,313.35 199.13,311.97 202.00,311.10 C204.80,310.25 207.95,309.32 210.50,309.30 C212.59,309.28 214.40,309.60 216.20,310.40 C218.18,311.28 220.04,312.88 221.80,314.60 C223.80,316.55 225.52,319.35 227.40,321.70 C229.28,324.05 231.37,326.47 233.10,328.70 C234.63,330.68 236.12,332.53 237.30,334.40 C238.34,336.06 239.03,337.67 239.90,339.30" fill="none" stroke="#ea3cea" stroke-width="1.55" stroke-dasharray="7 3.4 1.6 3.4" stroke-linejoin="round"/>
<path d="M41.30,389.30 C43.50,386.17 45.69,383.10 47.90,379.90 C50.18,376.60 52.74,373.17 54.80,369.80 C56.74,366.63 58.41,363.36 60.00,360.30 C61.45,357.51 62.72,354.82 64.00,352.20 C65.21,349.73 66.36,347.41 67.50,345.00 C68.63,342.61 69.53,340.38 70.80,337.80 C72.32,334.70 74.38,330.68 76.10,327.70 C77.53,325.23 78.99,323.13 80.30,321.10 C81.43,319.34 82.25,317.66 83.50,316.20 C84.73,314.76 86.09,313.35 87.70,312.40 C89.35,311.43 91.41,310.90 93.30,310.50 C95.14,310.11 97.17,310.56 98.90,310.00 C100.60,309.45 102.10,308.37 103.60,307.20 C105.25,305.92 106.77,304.17 108.30,302.50 C109.91,300.75 111.52,298.77 113.00,296.90 C114.42,295.11 115.56,293.63 117.00,291.50 C118.94,288.61 121.20,283.41 123.40,281.00 C124.90,279.36 126.47,277.61 128.00,277.60 C129.50,277.59 131.11,279.25 132.50,280.80 C134.41,282.93 136.13,286.97 137.60,289.90 C138.92,292.52 139.82,294.75 141.00,297.50 C142.37,300.71 143.72,304.22 145.30,308.00 C147.16,312.45 149.19,318.52 151.50,322.50 C153.32,325.63 155.21,328.59 157.40,330.30 C159.13,331.65 160.95,332.39 163.00,332.70 C165.28,333.04 167.92,332.36 170.50,331.90 C173.33,331.40 176.30,330.46 179.30,329.70 C182.46,328.90 185.66,328.00 189.00,327.20 C192.54,326.36 196.15,325.51 200.00,324.80 C204.21,324.02 209.19,323.34 213.30,322.80 C216.84,322.34 220.02,322.01 223.20,321.70 C226.14,321.42 228.89,321.20 231.70,321.00 C234.46,320.80 237.17,320.67 239.90,320.50" fill="none" stroke="#6e6ef0" stroke-width="1.55" stroke-linejoin="round"/>
<path d="M41.30,395.00 C42.20,393.27 43.12,391.55 44.00,389.80 C44.89,388.05 45.74,386.29 46.60,384.50 C47.47,382.69 48.26,381.04 49.20,379.00 C50.36,376.48 51.60,373.53 53.00,370.50 C54.62,366.99 56.55,362.98 58.40,359.20 C60.28,355.35 62.36,351.13 64.20,347.60 C65.77,344.59 67.26,341.61 68.70,339.30 C69.80,337.53 70.88,336.43 71.90,334.80 C73.02,333.02 74.01,330.81 75.10,329.00 C76.11,327.33 77.13,325.81 78.20,324.30 C79.23,322.84 80.45,321.38 81.40,320.10 C82.18,319.05 82.79,318.27 83.50,317.20 C84.32,315.95 85.05,314.43 86.00,313.00 C87.06,311.40 88.38,309.71 89.60,308.10 C90.81,306.51 92.09,305.06 93.30,303.40 C94.59,301.64 95.73,299.64 97.10,297.80 C98.52,295.90 100.20,293.85 101.70,292.20 C102.99,290.78 104.35,289.63 105.50,288.40 C106.52,287.31 107.29,286.41 108.30,285.20 C109.55,283.69 110.93,281.17 112.40,280.00 C113.54,279.09 114.74,278.73 116.00,278.30 C117.28,277.86 118.70,277.53 120.00,277.40 C121.20,277.28 122.34,277.06 123.50,277.50 C125.01,278.08 126.65,279.61 128.00,281.30 C129.74,283.47 131.06,286.62 132.50,289.90 C134.29,293.99 136.18,300.05 137.60,304.10 C138.66,307.11 139.41,309.16 140.30,312.00 C141.32,315.26 142.22,319.25 143.30,322.60 C144.30,325.69 145.36,328.66 146.50,331.40 C147.54,333.89 148.46,336.32 149.80,338.40 C151.06,340.35 152.56,342.57 154.20,343.60 C155.52,344.43 157.17,344.78 158.50,344.70 C159.69,344.63 160.60,344.05 161.80,343.40 C163.45,342.51 165.47,340.79 167.30,339.50 C169.11,338.22 170.65,336.68 172.70,335.70 C174.94,334.63 177.84,333.64 180.30,333.50 C182.56,333.37 184.65,334.00 186.90,334.60 C189.37,335.26 191.72,336.78 194.50,337.40 C197.65,338.10 201.51,338.58 204.90,338.30 C208.24,338.03 211.58,336.83 214.70,335.80 C217.67,334.81 220.39,333.59 223.20,332.30 C226.06,330.99 228.87,329.32 231.70,328.00 C234.44,326.73 237.17,325.67 239.90,324.50" fill="none" stroke="#ee3c3c" stroke-width="1.55" stroke-dasharray="6.2 6.2" stroke-linejoin="round"/>
<line x1="62.60" y1="364.40" x2="80.10" y2="364.40" stroke="#22dd22" stroke-width="1.5"/>
<line x1="62.60" y1="372.60" x2="80.10" y2="372.60" stroke="#ea3cea" stroke-width="1.5" stroke-dasharray="7.17 2.97 1.75 3.15"/>
<line x1="62.60" y1="380.80" x2="80.10" y2="380.80" stroke="#6e6ef0" stroke-width="1.5"/>
<line x1="62.60" y1="389.30" x2="80.10" y2="389.30" stroke="#ee3c3c" stroke-width="1.5" stroke-dasharray="6.12 5.77"/>
<text transform="translate(82.10,365.97) scale(0.93,1)" class="lg" font-size="4.37">Actual measurement</text>
<text transform="translate(82.10,374.17) scale(0.93,1)" class="lg" font-size="4.37">Stand k-ε</text>
<text transform="translate(82.10,382.37) scale(0.93,1)" class="lg" font-size="4.37">RNG k-ε</text>
<text transform="translate(82.10,390.87) scale(0.93,1)" class="lg" font-size="4.37">Realizable k-ε</text>
<rect x="41.20" y="228.10" width="207.40" height="167.20" fill="none" stroke="#3a3a3a" stroke-width="1.1"/>
<line x1="41.20" y1="395.30" x2="41.20" y2="398.30" stroke="#3a3a3a" stroke-width="0.8"/>
<line x1="58.48" y1="395.30" x2="58.48" y2="398.30" stroke="#3a3a3a" stroke-width="0.8"/>
<line x1="75.77" y1="395.30" x2="75.77" y2="398.30" stroke="#3a3a3a" stroke-width="0.8"/>
<line x1="93.06" y1="395.30" x2="93.06" y2="398.30" stroke="#3a3a3a" stroke-width="0.8"/>
<line x1="110.34" y1="395.30" x2="110.34" y2="398.30" stroke="#3a3a3a" stroke-width="0.8"/>
<line x1="127.62" y1="395.30" x2="127.62" y2="398.30" stroke="#3a3a3a" stroke-width="0.8"/>
<line x1="144.91" y1="395.30" x2="144.91" y2="398.30" stroke="#3a3a3a" stroke-width="0.8"/>
<line x1="162.19" y1="395.30" x2="162.19" y2="398.30" stroke="#3a3a3a" stroke-width="0.8"/>
<line x1="179.48" y1="395.30" x2="179.48" y2="398.30" stroke="#3a3a3a" stroke-width="0.8"/>
<line x1="196.76" y1="395.30" x2="196.76" y2="398.30" stroke="#3a3a3a" stroke-width="0.8"/>
<line x1="214.05" y1="395.30" x2="214.05" y2="398.30" stroke="#3a3a3a" stroke-width="0.8"/>
<line x1="231.33" y1="395.30" x2="231.33" y2="398.30" stroke="#3a3a3a" stroke-width="0.8"/>
<line x1="248.62" y1="395.30" x2="248.62" y2="398.30" stroke="#3a3a3a" stroke-width="0.8"/>
<line x1="49.84" y1="395.30" x2="49.84" y2="396.90" stroke="#3a3a3a" stroke-width="0.8"/>
<line x1="67.13" y1="395.30" x2="67.13" y2="396.90" stroke="#3a3a3a" stroke-width="0.8"/>
<line x1="84.41" y1="395.30" x2="84.41" y2="396.90" stroke="#3a3a3a" stroke-width="0.8"/>
<line x1="101.70" y1="395.30" x2="101.70" y2="396.90" stroke="#3a3a3a" stroke-width="0.8"/>
<line x1="118.98" y1="395.30" x2="118.98" y2="396.90" stroke="#3a3a3a" stroke-width="0.8"/>
<line x1="136.27" y1="395.30" x2="136.27" y2="396.90" stroke="#3a3a3a" stroke-width="0.8"/>
<line x1="153.55" y1="395.30" x2="153.55" y2="396.90" stroke="#3a3a3a" stroke-width="0.8"/>
<line x1="170.84" y1="395.30" x2="170.84" y2="396.90" stroke="#3a3a3a" stroke-width="0.8"/>
<line x1="188.12" y1="395.30" x2="188.12" y2="396.90" stroke="#3a3a3a" stroke-width="0.8"/>
<line x1="205.41" y1="395.30" x2="205.41" y2="396.90" stroke="#3a3a3a" stroke-width="0.8"/>
<line x1="222.69" y1="395.30" x2="222.69" y2="396.90" stroke="#3a3a3a" stroke-width="0.8"/>
<line x1="239.98" y1="395.30" x2="239.98" y2="396.90" stroke="#3a3a3a" stroke-width="0.8"/>
<line x1="38.00" y1="395.30" x2="41.20" y2="395.30" stroke="#3a3a3a" stroke-width="0.8"/>
<line x1="38.00" y1="374.40" x2="41.20" y2="374.40" stroke="#3a3a3a" stroke-width="0.8"/>
<line x1="38.00" y1="353.50" x2="41.20" y2="353.50" stroke="#3a3a3a" stroke-width="0.8"/>
<line x1="38.00" y1="332.60" x2="41.20" y2="332.60" stroke="#3a3a3a" stroke-width="0.8"/>
<line x1="38.00" y1="311.70" x2="41.20" y2="311.70" stroke="#3a3a3a" stroke-width="0.8"/>
<line x1="38.00" y1="290.80" x2="41.20" y2="290.80" stroke="#3a3a3a" stroke-width="0.8"/>
<line x1="38.00" y1="269.90" x2="41.20" y2="269.90" stroke="#3a3a3a" stroke-width="0.8"/>
<line x1="38.00" y1="249.00" x2="41.20" y2="249.00" stroke="#3a3a3a" stroke-width="0.8"/>
<line x1="38.00" y1="228.10" x2="41.20" y2="228.10" stroke="#3a3a3a" stroke-width="0.8"/>
<line x1="39.60" y1="384.85" x2="41.20" y2="384.85" stroke="#3a3a3a" stroke-width="0.8"/>
<line x1="39.60" y1="363.95" x2="41.20" y2="363.95" stroke="#3a3a3a" stroke-width="0.8"/>
<line x1="39.60" y1="343.05" x2="41.20" y2="343.05" stroke="#3a3a3a" stroke-width="0.8"/>
<line x1="39.60" y1="322.15" x2="41.20" y2="322.15" stroke="#3a3a3a" stroke-width="0.8"/>
<line x1="39.60" y1="301.25" x2="41.20" y2="301.25" stroke="#3a3a3a" stroke-width="0.8"/>
<line x1="39.60" y1="280.35" x2="41.20" y2="280.35" stroke="#3a3a3a" stroke-width="0.8"/>
<line x1="39.60" y1="259.45" x2="41.20" y2="259.45" stroke="#3a3a3a" stroke-width="0.8"/>
<line x1="39.60" y1="238.55" x2="41.20" y2="238.55" stroke="#3a3a3a" stroke-width="0.8"/>
<text transform="translate(41.20,405.55) scale(0.950,1)" class="tk" text-anchor="middle" font-size="6.40">0.0</text>
<text transform="translate(58.48,405.55) scale(0.950,1)" class="tk" text-anchor="middle" font-size="6.40">0.5</text>
<text transform="translate(75.77,405.55) scale(0.950,1)" class="tk" text-anchor="middle" font-size="6.40">1.0</text>
<text transform="translate(93.06,405.55) scale(0.950,1)" class="tk" text-anchor="middle" font-size="6.40">1.5</text>
<text transform="translate(110.34,405.55) scale(0.950,1)" class="tk" text-anchor="middle" font-size="6.40">2.0</text>
<text transform="translate(127.62,405.55) scale(0.950,1)" class="tk" text-anchor="middle" font-size="6.40">2.5</text>
<text transform="translate(144.91,405.55) scale(0.950,1)" class="tk" text-anchor="middle" font-size="6.40">3.0</text>
<text transform="translate(162.19,405.55) scale(0.950,1)" class="tk" text-anchor="middle" font-size="6.40">3.5</text>
<text transform="translate(179.48,405.55) scale(0.950,1)" class="tk" text-anchor="middle" font-size="6.40">4.0</text>
<text transform="translate(196.76,405.55) scale(0.950,1)" class="tk" text-anchor="middle" font-size="6.40">4.5</text>
<text transform="translate(214.05,405.55) scale(0.950,1)" class="tk" text-anchor="middle" font-size="6.40">5.0</text>
<text transform="translate(231.33,405.55) scale(0.950,1)" class="tk" text-anchor="middle" font-size="6.40">5.5</text>
<text transform="translate(248.62,405.55) scale(0.950,1)" class="tk" text-anchor="middle" font-size="6.40">6.0</text>
<text transform="translate(35.80,397.41) scale(0.950,1)" class="tk" text-anchor="end" font-size="6.40">0.00</text>
<text transform="translate(35.80,376.51) scale(0.950,1)" class="tk" text-anchor="end" font-size="6.40">0.05</text>
<text transform="translate(35.80,355.61) scale(0.950,1)" class="tk" text-anchor="end" font-size="6.40">0.10</text>
<text transform="translate(35.80,334.71) scale(0.950,1)" class="tk" text-anchor="end" font-size="6.40">0.15</text>
<text transform="translate(35.80,313.81) scale(0.950,1)" class="tk" text-anchor="end" font-size="6.40">0.20</text>
<text transform="translate(35.80,292.91) scale(0.950,1)" class="tk" text-anchor="end" font-size="6.40">0.25</text>
<text transform="translate(35.80,272.01) scale(0.950,1)" class="tk" text-anchor="end" font-size="6.40">0.30</text>
<text transform="translate(35.80,251.11) scale(0.950,1)" class="tk" text-anchor="end" font-size="6.40">0.35</text>
<text transform="translate(35.80,230.21) scale(0.950,1)" class="tk" text-anchor="end" font-size="6.40">0.40</text>
<line x1="342.73" y1="225.90" x2="342.73" y2="394.50" stroke="#e9e9e9" stroke-width="0.7"/>
<line x1="360.15" y1="225.90" x2="360.15" y2="394.50" stroke="#e9e9e9" stroke-width="0.7"/>
<line x1="377.58" y1="225.90" x2="377.58" y2="394.50" stroke="#e9e9e9" stroke-width="0.7"/>
<line x1="395.00" y1="225.90" x2="395.00" y2="394.50" stroke="#e9e9e9" stroke-width="0.7"/>
<line x1="412.43" y1="225.90" x2="412.43" y2="394.50" stroke="#e9e9e9" stroke-width="0.7"/>
<line x1="429.85" y1="225.90" x2="429.85" y2="394.50" stroke="#e9e9e9" stroke-width="0.7"/>
<line x1="447.28" y1="225.90" x2="447.28" y2="394.50" stroke="#e9e9e9" stroke-width="0.7"/>
<line x1="464.70" y1="225.90" x2="464.70" y2="394.50" stroke="#e9e9e9" stroke-width="0.7"/>
<line x1="482.12" y1="225.90" x2="482.12" y2="394.50" stroke="#e9e9e9" stroke-width="0.7"/>
<line x1="499.55" y1="225.90" x2="499.55" y2="394.50" stroke="#e9e9e9" stroke-width="0.7"/>
<line x1="516.98" y1="225.90" x2="516.98" y2="394.50" stroke="#e9e9e9" stroke-width="0.7"/>
<line x1="325.30" y1="373.43" x2="534.40" y2="373.43" stroke="#e9e9e9" stroke-width="0.7"/>
<line x1="325.30" y1="352.35" x2="534.40" y2="352.35" stroke="#e9e9e9" stroke-width="0.7"/>
<line x1="325.30" y1="331.27" x2="534.40" y2="331.27" stroke="#e9e9e9" stroke-width="0.7"/>
<line x1="325.30" y1="310.20" x2="534.40" y2="310.20" stroke="#e9e9e9" stroke-width="0.7"/>
<line x1="325.30" y1="289.12" x2="534.40" y2="289.12" stroke="#e9e9e9" stroke-width="0.7"/>
<line x1="325.30" y1="268.05" x2="534.40" y2="268.05" stroke="#e9e9e9" stroke-width="0.7"/>
<line x1="325.30" y1="246.97" x2="534.40" y2="246.97" stroke="#e9e9e9" stroke-width="0.7"/>
<path d="M325.50,381.20 C327.33,376.97 329.13,372.75 331.00,368.50 C332.90,364.19 334.91,359.41 336.80,355.50 C338.40,352.20 339.89,349.54 341.50,346.50 C343.16,343.37 344.82,340.12 346.60,337.00 C348.38,333.88 350.32,330.66 352.20,327.80 C353.92,325.19 355.72,322.86 357.40,320.50 C358.98,318.27 360.34,316.29 362.00,314.00 C363.90,311.39 366.17,308.67 368.20,305.70 C370.41,302.47 372.61,298.77 374.70,295.30 C376.74,291.90 378.65,288.46 380.60,285.10 C382.51,281.80 384.22,278.02 386.30,275.30 C388.04,273.02 389.84,270.77 391.90,269.60 C393.66,268.60 395.71,268.20 397.60,268.20 C399.48,268.20 401.41,268.74 403.20,269.60 C405.19,270.55 407.01,272.10 408.90,273.90 C411.24,276.13 413.77,279.43 415.90,282.30 C417.96,285.07 419.79,287.96 421.50,290.80 C423.14,293.52 424.35,296.32 426.00,299.00 C427.68,301.73 429.43,305.37 431.50,307.00 C433.04,308.21 434.76,309.08 436.50,308.90 C438.62,308.68 441.20,306.41 443.20,304.60 C445.33,302.67 446.87,299.67 448.80,297.50 C450.61,295.47 452.36,293.12 454.40,291.90 C456.17,290.85 458.23,290.09 460.10,290.20 C461.99,290.31 463.96,291.35 465.70,292.60 C467.74,294.07 469.60,296.81 471.30,298.90 C472.87,300.84 474.07,302.62 475.60,304.70 C477.37,307.10 479.25,309.69 481.30,312.50 C483.70,315.78 486.51,320.19 489.10,323.20 C491.24,325.68 493.08,327.83 495.50,329.50 C497.91,331.16 501.04,333.09 503.60,333.20 C505.84,333.29 507.98,332.12 510.00,330.90 C512.28,329.52 514.48,326.92 516.40,325.00 C518.10,323.30 519.48,321.71 521.00,320.00 C522.55,318.25 524.07,316.40 525.60,314.60" fill="none" stroke="#22dd22" stroke-width="1.55" stroke-linejoin="round"/>
<path d="M325.50,378.20 C327.00,374.63 328.45,371.04 330.00,367.50 C331.55,363.97 333.26,360.42 334.80,357.00 C336.26,353.76 337.48,350.56 339.00,347.50 C340.49,344.50 341.97,341.52 343.80,338.80 C345.61,336.12 347.64,333.73 349.90,331.30 C352.31,328.72 355.46,326.46 357.90,323.80 C360.29,321.19 362.30,318.43 364.40,315.50 C366.61,312.41 368.86,309.07 370.80,305.70 C372.73,302.34 374.42,299.01 376.00,295.30 C377.72,291.26 378.93,286.70 380.60,282.30 C382.35,277.68 384.35,271.89 386.30,268.20 C387.68,265.60 388.89,263.35 390.50,261.90 C391.77,260.76 393.27,259.81 394.70,259.70 C396.10,259.60 397.61,260.22 399.00,261.20 C400.95,262.58 402.78,265.71 404.60,268.20 C406.55,270.86 408.46,273.73 410.30,276.70 C412.23,279.82 414.12,283.19 415.90,286.50 C417.68,289.82 419.03,293.32 421.00,296.60 C423.04,299.99 426.01,303.60 428.00,306.50 C429.54,308.74 430.44,311.26 432.00,312.50 C433.20,313.45 434.73,314.23 436.00,314.00 C437.41,313.74 438.72,311.99 440.00,310.50 C441.63,308.60 442.98,305.72 444.60,303.20 C446.36,300.47 448.24,297.26 450.20,294.70 C451.99,292.37 453.88,289.66 455.80,288.40 C457.21,287.48 458.70,286.90 460.10,287.00 C461.53,287.11 462.95,287.91 464.30,289.10 C466.28,290.85 468.15,294.32 469.90,297.50 C471.97,301.26 473.75,306.62 475.60,310.40 C477.10,313.47 478.41,315.82 480.00,318.60 C481.70,321.58 483.67,325.10 485.50,327.70 C487.00,329.82 488.33,331.53 490.00,333.20 C491.67,334.87 493.56,336.72 495.50,337.70 C497.22,338.57 499.16,338.99 500.90,339.10 C502.48,339.20 504.04,339.05 505.50,338.50 C507.08,337.91 508.45,336.82 510.00,335.50 C512.05,333.76 514.49,330.59 516.40,328.60 C517.90,327.04 519.07,325.98 520.50,324.50 C522.12,322.82 523.90,320.83 525.60,319.00" fill="none" stroke="#ea3cea" stroke-width="1.55" stroke-dasharray="7 3.4 1.6 3.4" stroke-linejoin="round"/>
<path d="M325.50,384.60 C328.33,379.57 331.36,373.92 334.00,369.50 C336.13,365.94 337.94,363.20 340.00,360.00 C342.13,356.70 344.52,353.29 346.60,350.00 C348.58,346.86 350.44,343.75 352.20,340.70 C353.86,337.82 355.26,335.03 356.90,332.20 C358.58,329.30 360.65,325.95 362.20,323.50 C363.35,321.68 364.05,320.09 365.30,318.80 C366.48,317.58 367.91,316.62 369.40,315.90 C370.90,315.18 372.58,314.79 374.30,314.50 C376.14,314.19 378.25,314.40 380.10,314.20 C381.81,314.02 383.47,313.89 385.00,313.40 C386.46,312.93 387.87,312.28 389.10,311.40 C390.34,310.51 391.38,309.44 392.40,308.10 C393.62,306.50 394.60,304.22 395.70,302.30 C396.80,300.39 397.90,298.49 399.00,296.60 C400.10,294.72 401.11,293.02 402.30,291.00 C403.71,288.61 405.01,285.13 406.90,283.20 C408.51,281.55 410.60,279.80 412.50,279.70 C414.37,279.60 416.49,280.99 418.20,282.50 C420.37,284.41 421.98,288.04 423.80,291.00 C425.72,294.12 427.52,297.53 429.40,300.80 C431.29,304.09 433.21,307.72 435.10,310.70 C436.74,313.27 438.38,315.70 440.00,317.70 C441.34,319.36 442.40,320.78 444.00,322.00 C445.75,323.33 448.00,324.58 450.20,325.20 C452.43,325.82 454.94,325.50 457.30,325.70 C459.64,325.90 461.97,326.08 464.30,326.40 C466.64,326.72 469.09,327.16 471.30,327.60 C473.30,328.00 475.35,328.08 477.00,328.90 C478.56,329.68 479.42,331.01 481.00,332.30 C483.21,334.10 486.69,336.64 489.10,338.60 C491.10,340.23 492.44,342.00 494.50,343.20 C496.65,344.46 499.36,345.84 501.80,345.90 C504.22,345.96 506.84,345.02 509.10,343.60 C511.77,341.93 514.32,338.42 516.40,335.90 C518.19,333.73 519.47,331.64 521.00,329.50 C522.54,327.34 524.07,325.17 525.60,323.00" fill="none" stroke="#6e6ef0" stroke-width="1.55" stroke-linejoin="round"/>
<path d="M325.50,391.00 C327.00,387.17 328.48,383.15 330.00,379.50 C331.41,376.11 333.00,372.53 334.30,369.80 C335.27,367.75 336.12,366.44 337.00,364.50 C338.03,362.24 338.98,359.35 340.00,357.00 C340.92,354.87 341.84,352.96 342.80,351.00 C343.74,349.09 344.56,347.08 345.70,345.40 C346.78,343.80 348.10,342.63 349.40,341.10 C350.88,339.36 352.47,336.96 354.10,335.50 C355.46,334.29 356.87,333.82 358.30,332.70 C359.99,331.39 362.04,329.75 363.50,328.00 C364.92,326.30 365.61,324.15 367.00,322.40 C368.45,320.57 370.52,319.37 372.10,317.30 C374.01,314.80 375.53,311.53 377.30,308.20 C379.38,304.30 381.46,299.45 383.70,295.30 C385.87,291.29 388.05,286.51 390.50,283.70 C392.30,281.63 394.21,280.26 396.20,279.20 C397.99,278.24 399.94,277.36 401.80,277.40 C403.67,277.44 405.64,278.38 407.40,279.50 C409.44,280.80 411.27,282.69 413.10,285.10 C415.56,288.35 417.77,293.90 420.10,297.80 C422.17,301.26 424.37,304.01 426.30,307.40 C428.32,310.96 429.92,315.27 431.90,318.70 C433.67,321.77 435.38,325.05 437.50,327.10 C439.23,328.77 441.11,329.90 443.20,330.60 C445.34,331.32 447.87,331.41 450.20,331.30 C452.57,331.19 454.94,330.37 457.30,329.90 C459.64,329.43 461.96,328.85 464.30,328.50 C466.62,328.15 468.95,328.00 471.30,327.80 C473.68,327.60 476.21,327.47 478.50,327.30 C480.59,327.14 482.39,326.79 484.50,326.80 C486.86,326.81 489.47,327.13 492.00,327.50 C494.63,327.89 497.66,328.47 500.00,329.10 C501.88,329.61 503.43,330.24 505.00,330.80 C506.41,331.30 507.67,331.59 509.00,332.30 C510.51,333.10 511.99,334.39 513.50,335.50 C515.06,336.65 516.64,337.95 518.20,339.10 C519.71,340.21 521.20,341.23 522.70,342.30" fill="none" stroke="#ee3c3c" stroke-width="1.55" stroke-dasharray="6.2 6.2" stroke-linejoin="round"/>
<line x1="346.40" y1="363.60" x2="364.70" y2="363.60" stroke="#22dd22" stroke-width="1.5"/>
<line x1="346.40" y1="371.80" x2="364.70" y2="371.80" stroke="#ea3cea" stroke-width="1.5" stroke-dasharray="7.50 3.11 1.83 3.29"/>
<line x1="346.40" y1="380.30" x2="364.70" y2="380.30" stroke="#6e6ef0" stroke-width="1.5"/>
<line x1="346.40" y1="388.60" x2="364.70" y2="388.60" stroke="#ee3c3c" stroke-width="1.5" stroke-dasharray="6.41 6.04"/>
<text transform="translate(366.00,365.17) scale(0.93,1)" class="lg" font-size="4.37">Actual measurement</text>
<text transform="translate(366.00,373.37) scale(0.93,1)" class="lg" font-size="4.37">Stand k-ε</text>
<text transform="translate(366.00,381.87) scale(0.93,1)" class="lg" font-size="4.37">RNG k-ε</text>
<text transform="translate(366.00,390.17) scale(0.93,1)" class="lg" font-size="4.37">Realizable k-ε</text>
<rect x="325.30" y="225.90" width="209.10" height="168.60" fill="none" stroke="#3a3a3a" stroke-width="1.1"/>
<line x1="325.30" y1="394.50" x2="325.30" y2="397.50" stroke="#3a3a3a" stroke-width="0.8"/>
<line x1="342.73" y1="394.50" x2="342.73" y2="397.50" stroke="#3a3a3a" stroke-width="0.8"/>
<line x1="360.15" y1="394.50" x2="360.15" y2="397.50" stroke="#3a3a3a" stroke-width="0.8"/>
<line x1="377.58" y1="394.50" x2="377.58" y2="397.50" stroke="#3a3a3a" stroke-width="0.8"/>
<line x1="395.00" y1="394.50" x2="395.00" y2="397.50" stroke="#3a3a3a" stroke-width="0.8"/>
<line x1="412.43" y1="394.50" x2="412.43" y2="397.50" stroke="#3a3a3a" stroke-width="0.8"/>
<line x1="429.85" y1="394.50" x2="429.85" y2="397.50" stroke="#3a3a3a" stroke-width="0.8"/>
<line x1="447.28" y1="394.50" x2="447.28" y2="397.50" stroke="#3a3a3a" stroke-width="0.8"/>
<line x1="464.70" y1="394.50" x2="464.70" y2="397.50" stroke="#3a3a3a" stroke-width="0.8"/>
<line x1="482.12" y1="394.50" x2="482.12" y2="397.50" stroke="#3a3a3a" stroke-width="0.8"/>
<line x1="499.55" y1="394.50" x2="499.55" y2="397.50" stroke="#3a3a3a" stroke-width="0.8"/>
<line x1="516.98" y1="394.50" x2="516.98" y2="397.50" stroke="#3a3a3a" stroke-width="0.8"/>
<line x1="534.40" y1="394.50" x2="534.40" y2="397.50" stroke="#3a3a3a" stroke-width="0.8"/>
<line x1="334.01" y1="394.50" x2="334.01" y2="396.10" stroke="#3a3a3a" stroke-width="0.8"/>
<line x1="351.44" y1="394.50" x2="351.44" y2="396.10" stroke="#3a3a3a" stroke-width="0.8"/>
<line x1="368.86" y1="394.50" x2="368.86" y2="396.10" stroke="#3a3a3a" stroke-width="0.8"/>
<line x1="386.29" y1="394.50" x2="386.29" y2="396.10" stroke="#3a3a3a" stroke-width="0.8"/>
<line x1="403.71" y1="394.50" x2="403.71" y2="396.10" stroke="#3a3a3a" stroke-width="0.8"/>
<line x1="421.14" y1="394.50" x2="421.14" y2="396.10" stroke="#3a3a3a" stroke-width="0.8"/>
<line x1="438.56" y1="394.50" x2="438.56" y2="396.10" stroke="#3a3a3a" stroke-width="0.8"/>
<line x1="455.99" y1="394.50" x2="455.99" y2="396.10" stroke="#3a3a3a" stroke-width="0.8"/>
<line x1="473.41" y1="394.50" x2="473.41" y2="396.10" stroke="#3a3a3a" stroke-width="0.8"/>
<line x1="490.84" y1="394.50" x2="490.84" y2="396.10" stroke="#3a3a3a" stroke-width="0.8"/>
<line x1="508.26" y1="394.50" x2="508.26" y2="396.10" stroke="#3a3a3a" stroke-width="0.8"/>
<line x1="525.69" y1="394.50" x2="525.69" y2="396.10" stroke="#3a3a3a" stroke-width="0.8"/>
<line x1="322.10" y1="394.50" x2="325.30" y2="394.50" stroke="#3a3a3a" stroke-width="0.8"/>
<line x1="322.10" y1="373.43" x2="325.30" y2="373.43" stroke="#3a3a3a" stroke-width="0.8"/>
<line x1="322.10" y1="352.35" x2="325.30" y2="352.35" stroke="#3a3a3a" stroke-width="0.8"/>
<line x1="322.10" y1="331.27" x2="325.30" y2="331.27" stroke="#3a3a3a" stroke-width="0.8"/>
<line x1="322.10" y1="310.20" x2="325.30" y2="310.20" stroke="#3a3a3a" stroke-width="0.8"/>
<line x1="322.10" y1="289.12" x2="325.30" y2="289.12" stroke="#3a3a3a" stroke-width="0.8"/>
<line x1="322.10" y1="268.05" x2="325.30" y2="268.05" stroke="#3a3a3a" stroke-width="0.8"/>
<line x1="322.10" y1="246.97" x2="325.30" y2="246.97" stroke="#3a3a3a" stroke-width="0.8"/>
<line x1="322.10" y1="225.90" x2="325.30" y2="225.90" stroke="#3a3a3a" stroke-width="0.8"/>
<line x1="323.70" y1="383.96" x2="325.30" y2="383.96" stroke="#3a3a3a" stroke-width="0.8"/>
<line x1="323.70" y1="362.89" x2="325.30" y2="362.89" stroke="#3a3a3a" stroke-width="0.8"/>
<line x1="323.70" y1="341.81" x2="325.30" y2="341.81" stroke="#3a3a3a" stroke-width="0.8"/>
<line x1="323.70" y1="320.74" x2="325.30" y2="320.74" stroke="#3a3a3a" stroke-width="0.8"/>
<line x1="323.70" y1="299.66" x2="325.30" y2="299.66" stroke="#3a3a3a" stroke-width="0.8"/>
<line x1="323.70" y1="278.59" x2="325.30" y2="278.59" stroke="#3a3a3a" stroke-width="0.8"/>
<line x1="323.70" y1="257.51" x2="325.30" y2="257.51" stroke="#3a3a3a" stroke-width="0.8"/>
<line x1="323.70" y1="236.44" x2="325.30" y2="236.44" stroke="#3a3a3a" stroke-width="0.8"/>
<text transform="translate(325.30,404.75) scale(0.950,1)" class="tk" text-anchor="middle" font-size="6.40">0.0</text>
<text transform="translate(342.73,404.75) scale(0.950,1)" class="tk" text-anchor="middle" font-size="6.40">0.5</text>
<text transform="translate(360.15,404.75) scale(0.950,1)" class="tk" text-anchor="middle" font-size="6.40">1.0</text>
<text transform="translate(377.58,404.75) scale(0.950,1)" class="tk" text-anchor="middle" font-size="6.40">1.5</text>
<text transform="translate(395.00,404.75) scale(0.950,1)" class="tk" text-anchor="middle" font-size="6.40">2.0</text>
<text transform="translate(412.43,404.75) scale(0.950,1)" class="tk" text-anchor="middle" font-size="6.40">2.5</text>
<text transform="translate(429.85,404.75) scale(0.950,1)" class="tk" text-anchor="middle" font-size="6.40">3.0</text>
<text transform="translate(447.28,404.75) scale(0.950,1)" class="tk" text-anchor="middle" font-size="6.40">3.5</text>
<text transform="translate(464.70,404.75) scale(0.950,1)" class="tk" text-anchor="middle" font-size="6.40">4.0</text>
<text transform="translate(482.12,404.75) scale(0.950,1)" class="tk" text-anchor="middle" font-size="6.40">4.5</text>
<text transform="translate(499.55,404.75) scale(0.950,1)" class="tk" text-anchor="middle" font-size="6.40">5.0</text>
<text transform="translate(516.98,404.75) scale(0.950,1)" class="tk" text-anchor="middle" font-size="6.40">5.5</text>
<text transform="translate(534.40,404.75) scale(0.950,1)" class="tk" text-anchor="middle" font-size="6.40">6.0</text>
<text transform="translate(319.80,396.61) scale(0.950,1)" class="tk" text-anchor="end" font-size="6.40">0.00</text>
<text transform="translate(319.80,375.54) scale(0.950,1)" class="tk" text-anchor="end" font-size="6.40">0.05</text>
<text transform="translate(319.80,354.46) scale(0.950,1)" class="tk" text-anchor="end" font-size="6.40">0.10</text>
<text transform="translate(319.80,333.39) scale(0.950,1)" class="tk" text-anchor="end" font-size="6.40">0.15</text>
<text transform="translate(319.80,312.31) scale(0.950,1)" class="tk" text-anchor="end" font-size="6.40">0.20</text>
<text transform="translate(319.80,291.24) scale(0.950,1)" class="tk" text-anchor="end" font-size="6.40">0.25</text>
<text transform="translate(319.80,270.16) scale(0.950,1)" class="tk" text-anchor="end" font-size="6.40">0.30</text>
<text transform="translate(319.80,249.09) scale(0.950,1)" class="tk" text-anchor="end" font-size="6.40">0.35</text>
<text transform="translate(319.80,228.01) scale(0.950,1)" class="tk" text-anchor="end" font-size="6.40">0.40</text>
<text x="8.9" y="18.6" class="pl" font-size="8.5">(d)</text>
<text x="8.3" y="228.9" class="pl" font-size="8.5">(e)</text>
<text x="0" y="0" class="at" font-size="9.10" text-anchor="middle" transform="translate(23.20,101.10) rotate(-90)">Velocity(m/s)</text>
<text x="0" y="0" class="at" font-size="9.40" text-anchor="middle" transform="translate(299.10,100.30) rotate(-90)">Velocity(m/s)</text>
<text x="0" y="0" class="at" font-size="9.10" text-anchor="middle" transform="translate(22.20,310.80) rotate(-90)">Velocity(m/s)</text>
<text x="0" y="0" class="at" font-size="9.30" text-anchor="middle" transform="translate(305.67,308.20) rotate(-90)">Velocity(m/s)</text>
<text x="144.40" y="209.40" class="at" font-size="8.75" text-anchor="middle">Monitoring points</text>
<text x="425.20" y="212.00" class="at" font-size="9.05" text-anchor="middle">Monitoring points</text>
<text x="145.00" y="418.00" class="at" font-size="8.66" text-anchor="middle">Monitoring points</text>
<text x="430.30" y="417.40" class="at" font-size="8.75" text-anchor="middle">Monitoring points</text>
</g>
</svg>
</body></html>
